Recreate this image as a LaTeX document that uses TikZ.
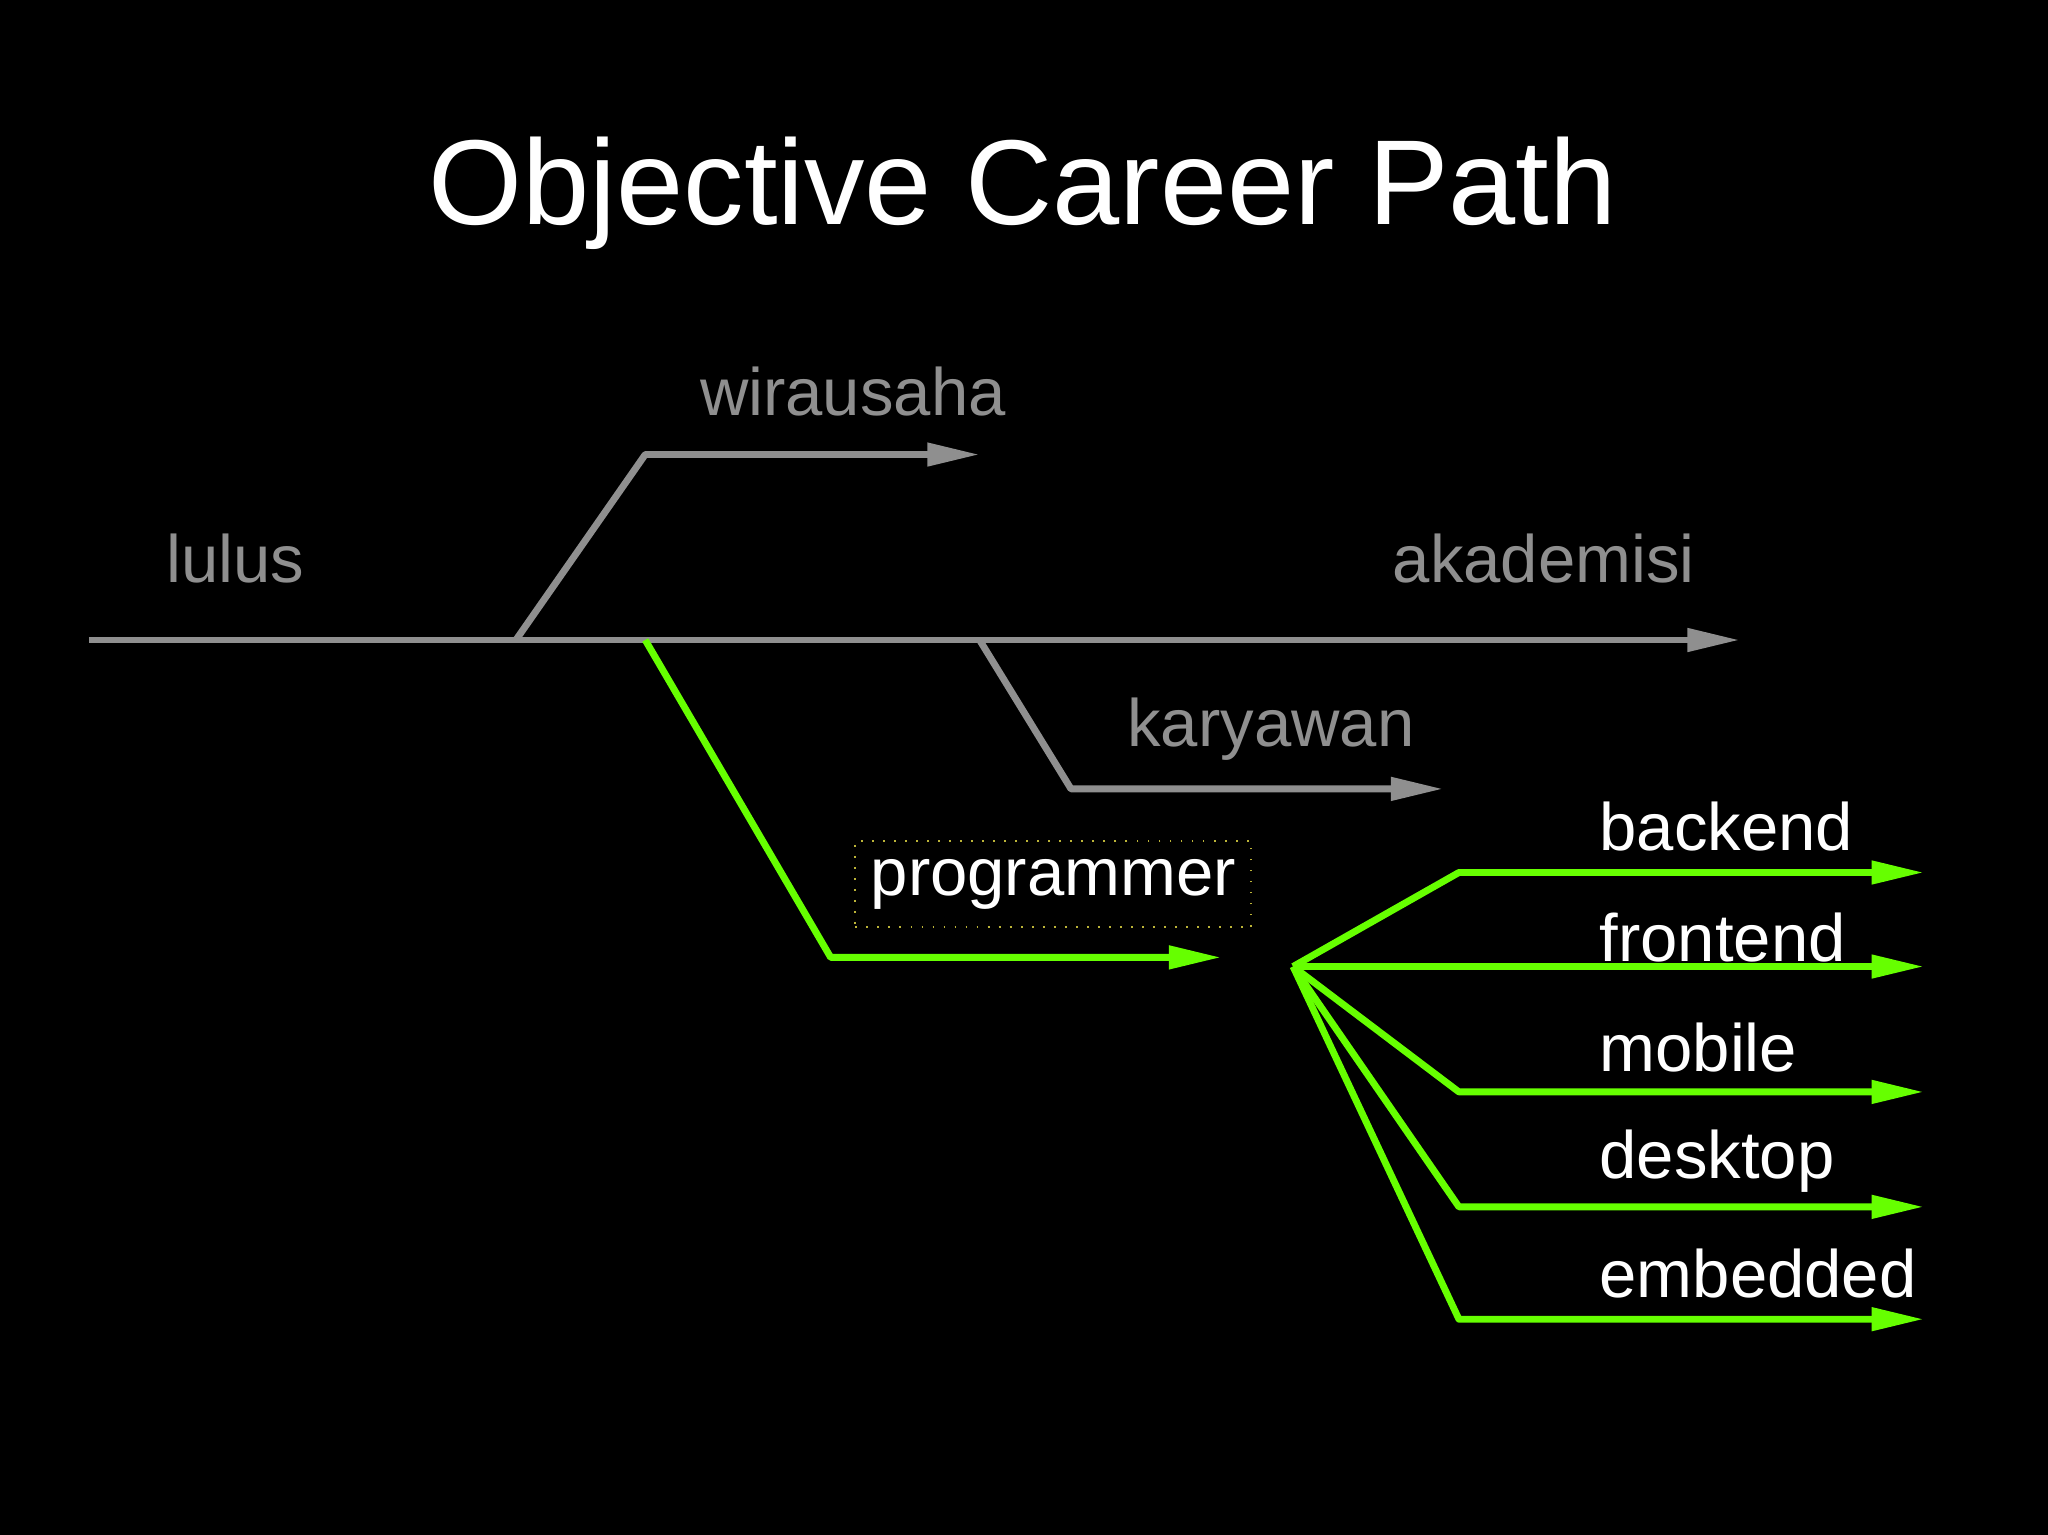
\documentclass[tikz,border=0pt]{standalone}
\usepackage{fontspec}
\setmainfont{Liberation Sans}
\usetikzlibrary{arrows.meta}
\definecolor{gry}{HTML}{8F8F8F}
\definecolor{grn}{HTML}{66FF00}
\begin{document}
\begin{tikzpicture}[x=0.01cm,y=-0.01cm,
  gline/.style={draw=gry,line width=1.5pt,line join=round},
  vline/.style={draw=grn,line width=1.5pt,line join=round},
  garr/.style={gline,-{Triangle[length=0.4cm,width=0.17cm]}},
  varr/.style={vline,-{Triangle[length=0.4cm,width=0.17cm]}},
  glab/.style={text=gry,font=\fontsize{14.6}{17}\selectfont},
  wlab/.style={text=white,font=\fontsize{14.6}{17}\selectfont,anchor=west,inner sep=0pt}]
\fill[black] (0,0) rectangle (1568,1175);
\useasboundingbox (0,0) rectangle (1568,1175);
\node[text=white,font=\fontsize{26.3}{30}\selectfont] (title) at (783,148) {Objective Career Path};
\coordinate (s) at (68,490); \coordinate (e) at (1332,490);
\coordinate (b1) at (395,490); \coordinate (w1) at (494,348); \coordinate (w2) at (750,348);
\coordinate (b2) at (750,490); \coordinate (k1) at (820,604); \coordinate (k2) at (1105,604);
\coordinate (b3) at (494,490); \coordinate (p1) at (636,733); \coordinate (p2) at (935,733);
\draw[garr] (s) -- (e);
\draw[garr] (b1) -- (w1) -- (w2);
\draw[garr] (b2) -- (k1) -- (k2);
\draw[varr] (b3) -- (p1) -- (p2);
\node[glab] (lulus) at (180,428) {lulus};
\node[glab] (wira) at (653,300) {wirausaha};
\node[glab] (akad) at (1182,428) {akademisi};
\node[glab] (kary) at (973,558) {karyawan};
\node[draw=yellow!70!black,dotted,text=white,font=\fontsize{14.6}{17}\selectfont,minimum width=3.03cm,minimum height=0.66cm,inner sep=0pt] (prog) at (806.5,677) {programmer};
\coordinate (f) at (990,740);
\coordinate (f1) at (1117,668); \coordinate (e1) at (1473,668);
\coordinate (e2) at (1473,740);
\coordinate (f3) at (1117,836); \coordinate (e3) at (1473,836);
\coordinate (f4) at (1117,924); \coordinate (e4) at (1473,924);
\coordinate (f5) at (1117,1010); \coordinate (e5) at (1473,1010);
\draw[varr] (f) -- (f1) -- (e1);
\draw[varr] (f) -- (e2);
\draw[varr] (f) -- (f3) -- (e3);
\draw[varr] (f) -- (f4) -- (e4);
\draw[varr] (f) -- (f5) -- (e5);
\node[wlab] (be) at (1224,633) {backend};
\node[wlab] (fe) at (1224,718) {frontend};
\node[wlab] (mo) at (1224,802) {mobile};
\node[wlab] (de) at (1224,889) {desktop};
\node[wlab] (em) at (1224,975) {embedded};
\end{tikzpicture}
\end{document}
